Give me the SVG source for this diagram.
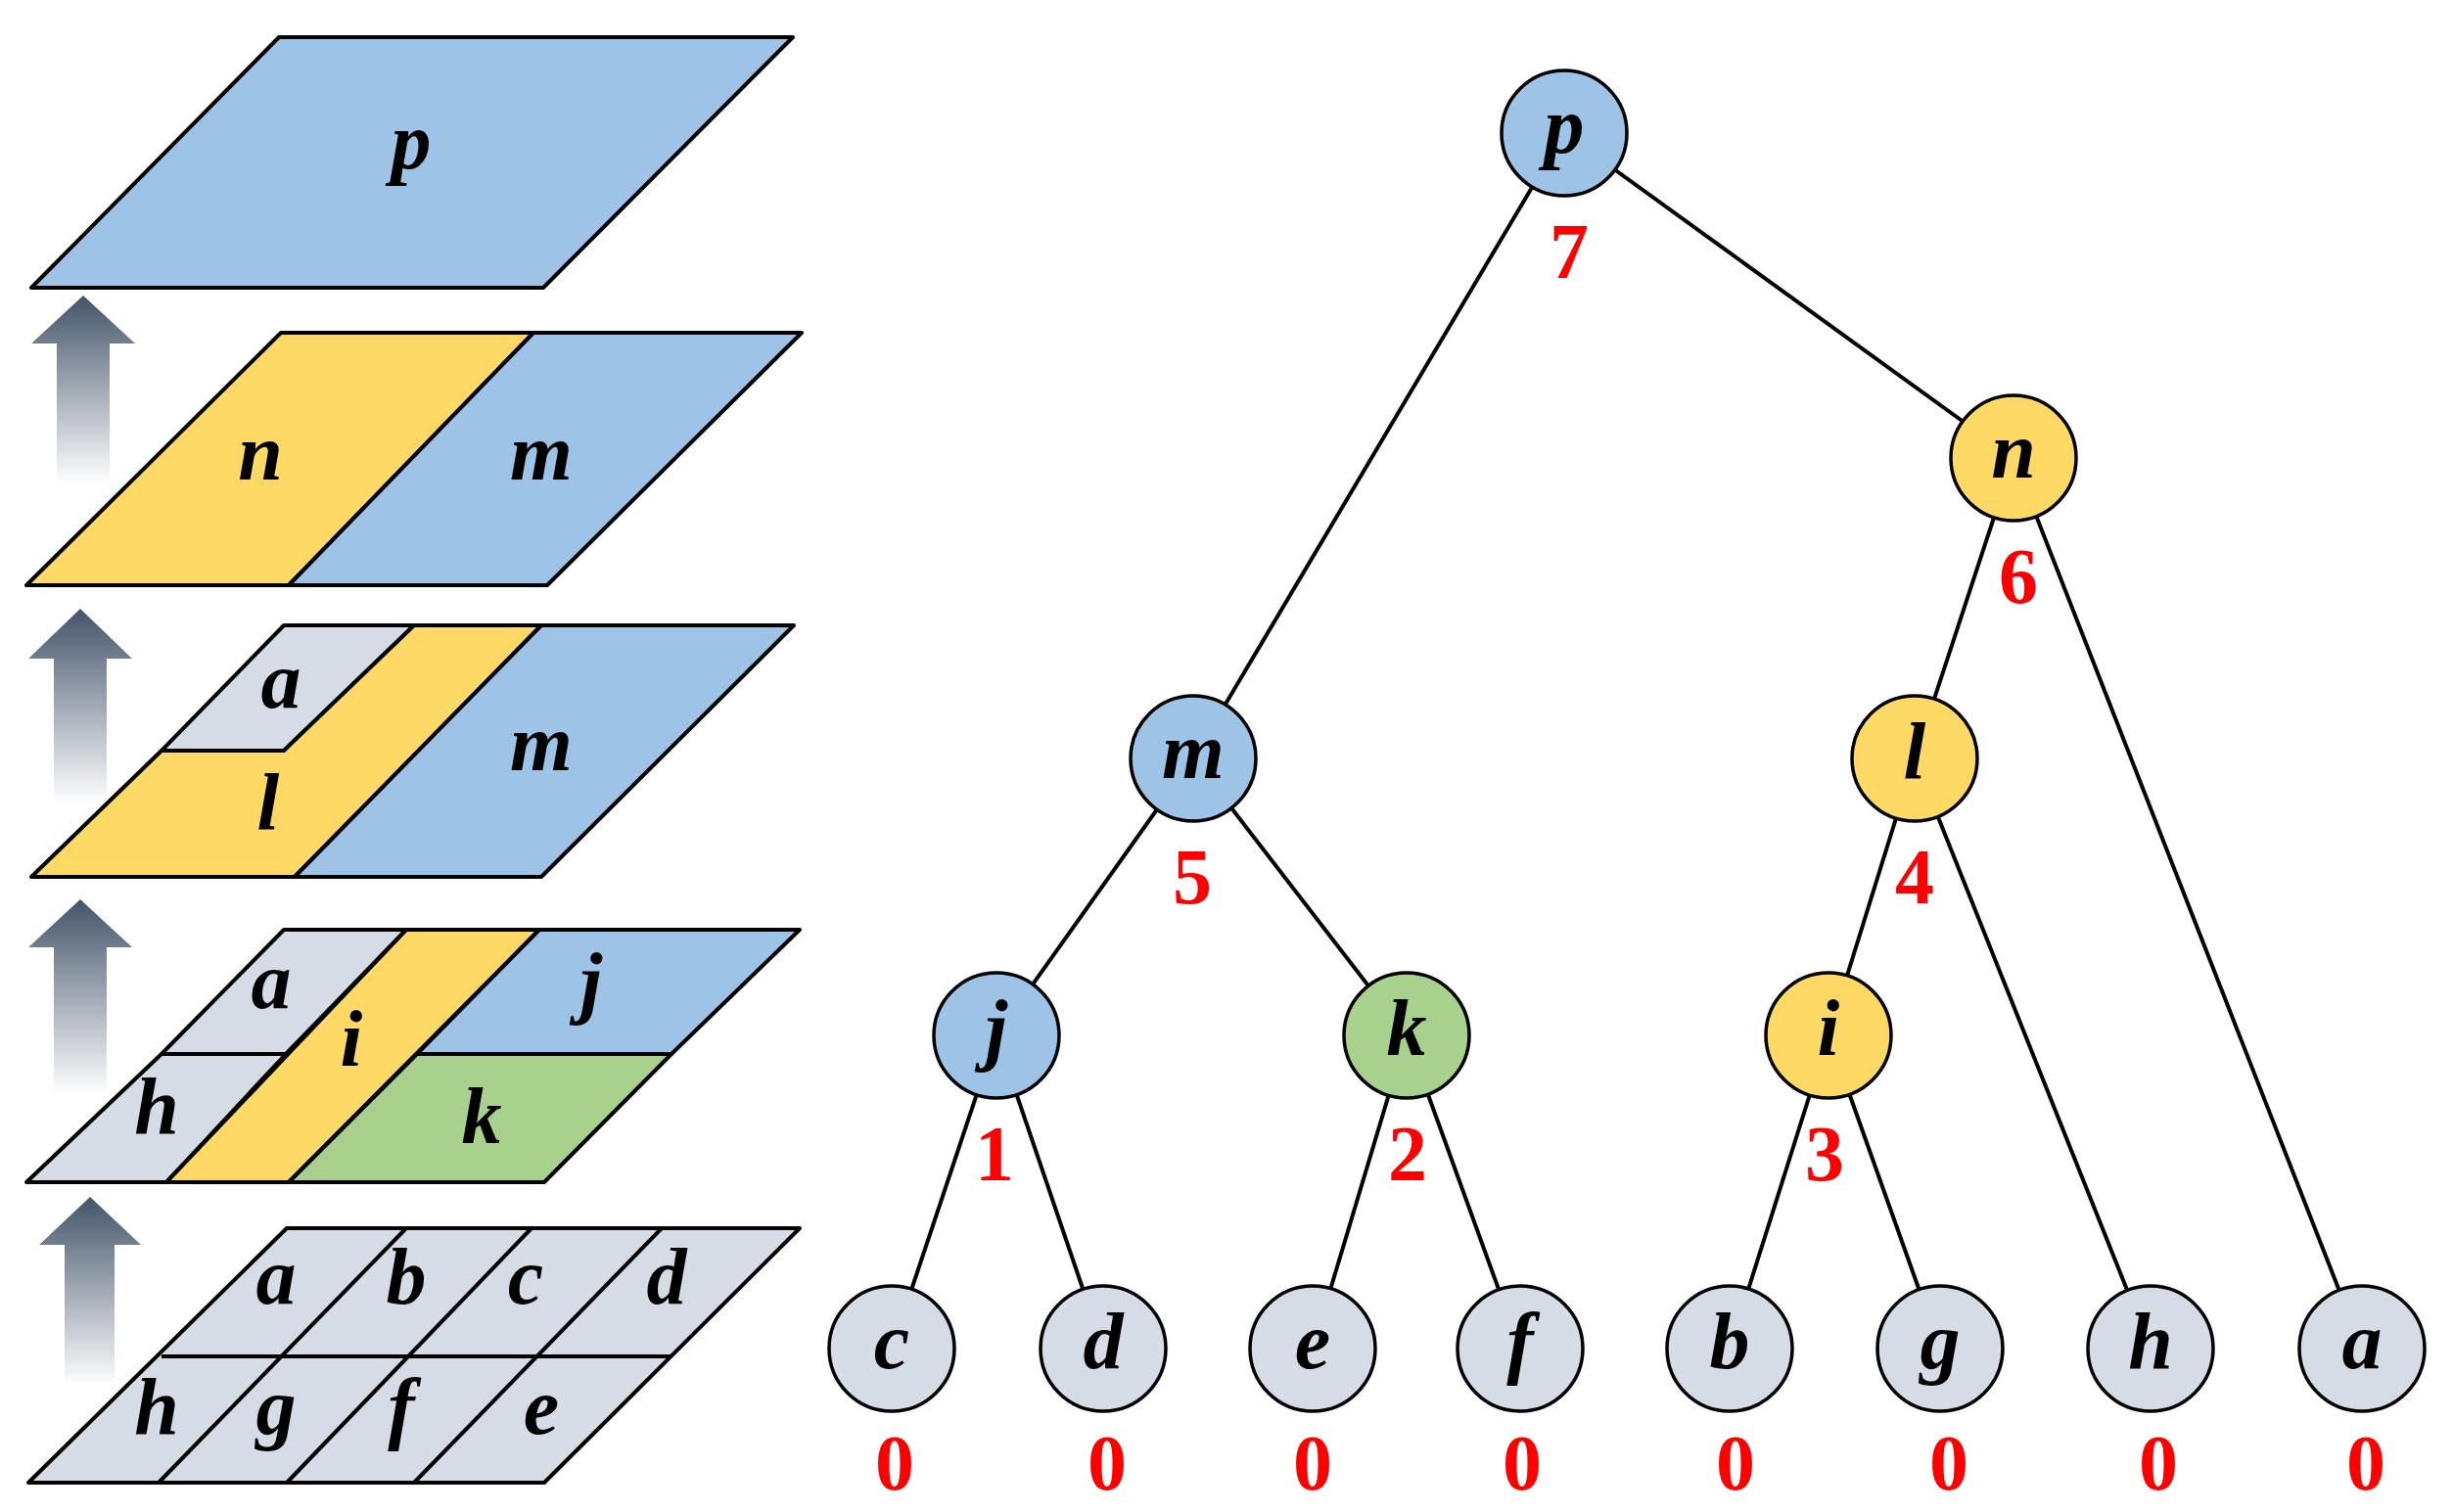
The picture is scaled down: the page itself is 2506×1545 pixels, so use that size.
<svg xmlns="http://www.w3.org/2000/svg" width="2506" height="1545" viewBox="0 0 2506 1545">
<defs>
<linearGradient id="ag" x1="0" y1="0" x2="0" y2="1"><stop offset="0" stop-color="#44546A"/><stop offset="1" stop-color="#44546A" stop-opacity="0"/></linearGradient>
<style>
.pl{stroke:#000;stroke-width:4;stroke-linejoin:round}
.b{fill:#9DC3E6}.y{fill:#FFD966}.g{fill:#A9D18E}.s{fill:#D6DCE5}
.t{font-family:"Liberation Serif",serif;font-weight:bold;font-style:italic;font-size:82px;text-anchor:middle}
.n{font-family:"Liberation Serif",serif;font-weight:bold;font-size:80px;fill:#FF0000;text-anchor:middle}
.e{stroke:#000;stroke-width:4;fill:none}
.c{stroke:#000;stroke-width:3.5}
</style>
</defs>
<rect width="2506" height="1545" fill="#fff"/>
<g id="arrows" fill="url(#ag)">
<polygon points="85,302 138,351 112,351 112,495 58,495 58,351 32,351"/>
<polygon points="82,622 135,673 109,673 109,822 55,822 55,673 29,673"/>
<polygon points="82,919 135,968 109,968 109,1119 55,1119 55,968 29,968"/>
<polygon points="92,1223 144,1272 117,1272 117,1416 66,1416 66,1272 40,1272"/>
</g>
<g id="plane1">
<polygon class="pl b" points="32,294 555,294 810,38 285,38"/>
<text class="t" x="420" y="172">p</text>
</g>
<g id="plane2">
<polygon class="pl y" points="27,598 295,598 545,340 287,340"/>
<polygon class="pl b" points="295,598 559,598 819,340 545,340"/>
<text class="t" x="266" y="490">n</text>
<text class="t" x="553" y="490">m</text>
</g>
<g id="plane3">
<polygon class="pl s" points="290,639 423,639 290,767 165,767"/>
<polygon class="pl y" points="423,639 553,639 301,896 32,896 165,767 290,767"/>
<polygon class="pl b" points="553,639 811,639 553,896 301,896"/>
<text class="t" x="287" y="723">a</text>
<text class="t" x="274" y="847">l</text>
<text class="t" x="553" y="787">m</text>
</g>
<g id="plane4">
<polygon class="pl s" points="290,950 415,950 292,1077 165,1077"/>
<polygon class="pl s" points="165,1077 292,1077 170,1208 27,1208"/>
<polygon class="pl y" points="415,950 551,950 295,1208 170,1208"/>
<polygon class="pl b" points="551,950 817,950 686,1077 426,1077"/>
<polygon class="pl g" points="426,1077 686,1077 556,1208 295,1208"/>
<text class="t" x="277" y="1030">a</text>
<text class="t" x="160" y="1158">h</text>
<text class="t" x="359" y="1089">i</text>
<text class="t" x="604" y="1030">j</text>
<text class="t" x="492" y="1168">k</text>
</g>
<g id="plane5">
<polygon class="pl s" points="293,1255 817,1255 556,1515 29,1515"/>
<path class="e" d="M165,1386 L686,1386 M415,1255 L162,1515 M543,1255 L293,1515 M676,1255 L423,1515"/>
<text class="t" x="282" y="1332">a</text>
<text class="t" x="415" y="1332">b</text>
<text class="t" x="537" y="1332">c</text>
<text class="t" x="681" y="1332">d</text>
<text class="t" x="160" y="1465">h</text>
<text class="t" x="282" y="1465">g</text>
<text class="t" x="410" y="1465">f</text>
<text class="t" x="553" y="1465">e</text>
</g>
<g id="connectors" class="e">
<line x1="1598" y1="136" x2="1219" y2="775"/>
<line x1="1598" y1="136" x2="2057" y2="468"/>
<line x1="1219" y1="775" x2="1018" y2="1058"/>
<line x1="1219" y1="775" x2="1437" y2="1058"/>
<line x1="2057" y1="468" x2="1956" y2="775"/>
<line x1="2057" y1="468" x2="2413" y2="1378"/>
<line x1="1956" y1="775" x2="1868" y2="1058"/>
<line x1="1956" y1="775" x2="2197" y2="1378"/>
<line x1="1018" y1="1058" x2="911" y2="1378"/>
<line x1="1018" y1="1058" x2="1127" y2="1378"/>
<line x1="1437" y1="1058" x2="1341" y2="1378"/>
<line x1="1437" y1="1058" x2="1553" y2="1378"/>
<line x1="1868" y1="1058" x2="1767" y2="1378"/>
<line x1="1868" y1="1058" x2="1982" y2="1378"/>
</g>
<g id="node-p"><circle class="c b" cx="1598" cy="136" r="64"/><text class="t" x="1598" y="156">p</text><text class="n" x="1603" y="284">7</text></g>
<g id="node-n"><circle class="c y" cx="2057" cy="468" r="64"/><text class="t" x="2057" y="488">n</text><text class="n" x="2062" y="616">6</text></g>
<g id="node-m"><circle class="c b" cx="1219" cy="775" r="64"/><text class="t" x="1219" y="795">m</text><text class="n" x="1218" y="923">5</text></g>
<g id="node-l"><circle class="c y" cx="1956" cy="775" r="64"/><text class="t" x="1956" y="795">l</text><text class="n" x="1956" y="923">4</text></g>
<g id="node-j"><circle class="c b" cx="1018" cy="1058" r="64"/><text class="t" x="1018" y="1078">j</text><text class="n" x="1016" y="1206">1</text></g>
<g id="node-k"><circle class="c g" cx="1437" cy="1058" r="64"/><text class="t" x="1437" y="1078">k</text><text class="n" x="1438" y="1206">2</text></g>
<g id="node-i"><circle class="c y" cx="1868" cy="1058" r="64"/><text class="t" x="1868" y="1078">i</text><text class="n" x="1864" y="1206">3</text></g>
<g id="node-c"><circle class="c s" cx="911" cy="1378" r="64"/><text class="t" x="911" y="1398">c</text><text class="n" x="914" y="1522">0</text></g>
<g id="node-d"><circle class="c s" cx="1127" cy="1378" r="64"/><text class="t" x="1127" y="1398">d</text><text class="n" x="1131" y="1522">0</text></g>
<g id="node-e"><circle class="c s" cx="1341" cy="1378" r="64"/><text class="t" x="1341" y="1398">e</text><text class="n" x="1341" y="1522">0</text></g>
<g id="node-f"><circle class="c s" cx="1553" cy="1378" r="64"/><text class="t" x="1553" y="1398">f</text><text class="n" x="1555" y="1522">0</text></g>
<g id="node-b"><circle class="c s" cx="1767" cy="1378" r="64"/><text class="t" x="1767" y="1398">b</text><text class="n" x="1773" y="1522">0</text></g>
<g id="node-g"><circle class="c s" cx="1982" cy="1378" r="64"/><text class="t" x="1982" y="1398">g</text><text class="n" x="1991" y="1522">0</text></g>
<g id="node-h"><circle class="c s" cx="2197" cy="1378" r="64"/><text class="t" x="2197" y="1398">h</text><text class="n" x="2205" y="1522">0</text></g>
<g id="node-a"><circle class="c s" cx="2413" cy="1378" r="64"/><text class="t" x="2413" y="1398">a</text><text class="n" x="2417" y="1522">0</text></g>
</svg>
